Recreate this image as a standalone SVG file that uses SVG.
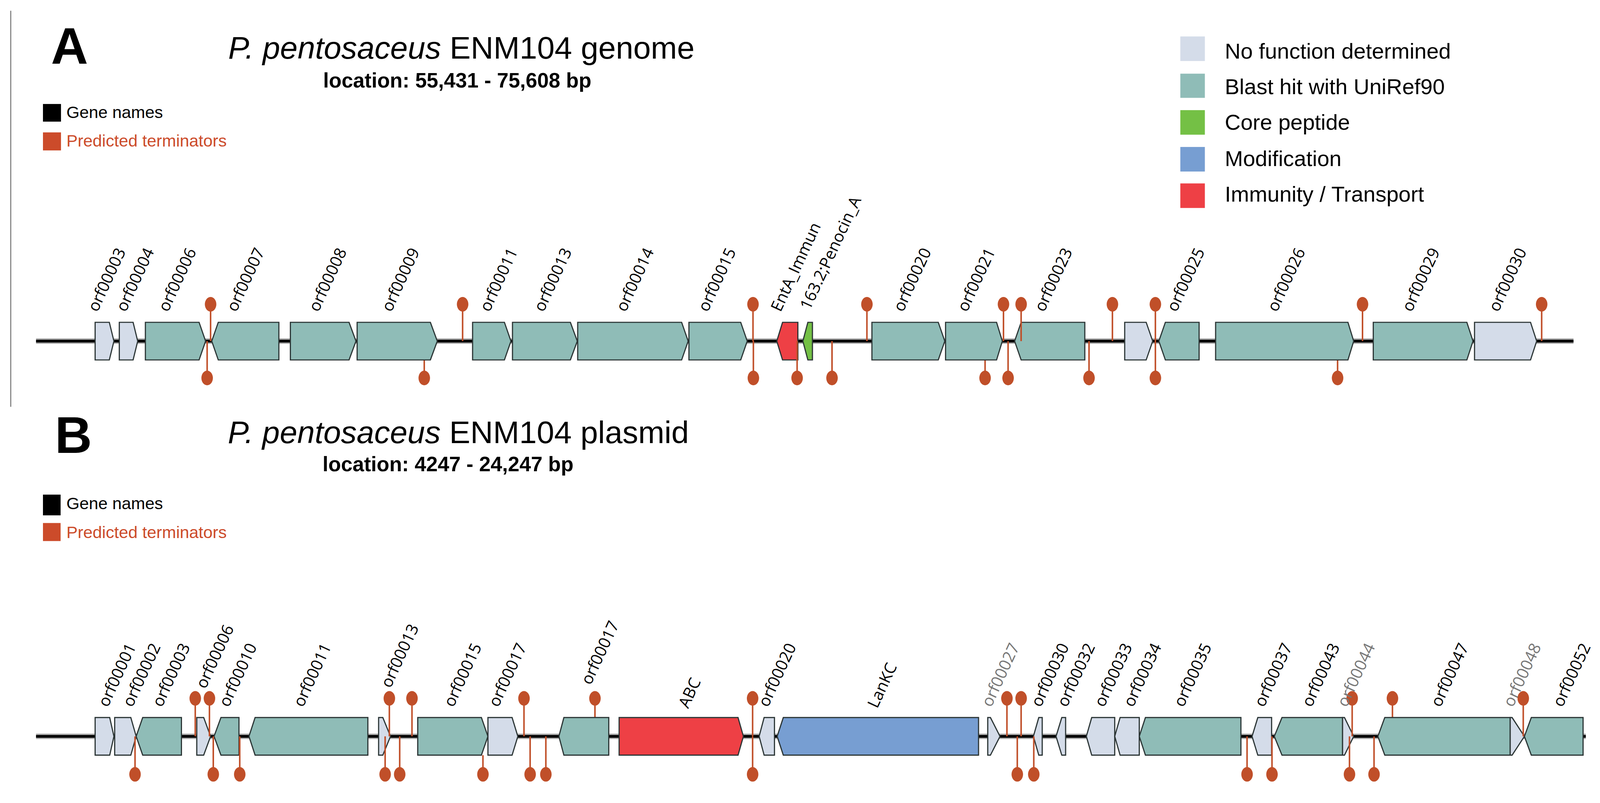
<svg xmlns="http://www.w3.org/2000/svg" width="4171" height="2055" viewBox="0 0 4171 2055">
<style>
.bg{fill:#fff}
.t{font-family:"Liberation Sans",Arial,sans-serif;fill:#000}
.lbl{font-family:"Open Sans","DejaVu Sans",sans-serif;font-size:42px;fill:#000}
.gry{fill:#777}
.g{stroke:#2b3535;stroke-width:3;stroke-linejoin:miter}
.nf{fill:#d4dce9}.bh{fill:#8fbcb7}.cp{fill:#74c045}.md{fill:#779ed2}.im{fill:#ee4045}
.halo{stroke:#a8a8a8;stroke-width:14}
.bb{stroke:#000;stroke-width:7}
.st{stroke:#c04f29;stroke-width:4}
.hd{fill:#c04f29}
</style>
<rect class="bg" x="0" y="0" width="4171" height="2055"/>
<g transform="scale(0.982)">
<line x1="28" y1="28" x2="28" y2="1060" stroke="#888" stroke-width="3"/>

<g id="headerA">
<text class="t" x="133" y="166" font-size="134" font-weight="bold">A</text>
<text class="t" x="595" y="153" font-size="82"><tspan font-style="italic">P. pentosaceus</tspan> ENM104 genome</text>
<text class="t" x="1192" y="228" font-size="54" font-weight="bold" text-anchor="middle">location: 55,431 - 75,608 bp</text>
<rect x="112" y="271" width="47" height="46" fill="#000"/>
<text class="t" x="173" y="308" font-size="44">Gene names</text>
<rect x="112" y="345" width="47" height="47" fill="#cc4b2a"/>
<text class="t" x="173" y="382" font-size="44" style="fill:#cc4b2a">Predicted terminators</text>
</g>

<g id="legend">
<rect class="nf" x="3077" y="95" width="64" height="64"/>
<text class="t" x="3193" y="153" font-size="57">No function determined</text>
<rect class="bh" x="3077" y="192" width="64" height="63"/>
<text class="t" x="3193" y="245" font-size="57">Blast hit with UniRef90</text>
<rect class="cp" x="3077" y="287" width="64" height="64"/>
<text class="t" x="3193" y="338" font-size="57">Core peptide</text>
<rect class="md" x="3077" y="383" width="64" height="64"/>
<text class="t" x="3193" y="433" font-size="57">Modification</text>
<rect class="im" x="3077" y="478" width="64" height="64"/>
<text class="t" x="3193" y="525" font-size="57">Immunity / Transport</text>
</g>

<g id="headerB">
<text class="t" x="143" y="1180" font-size="134" font-weight="bold">B</text>
<text class="t" x="594" y="1155" font-size="82"><tspan font-style="italic">P. pentosaceus</tspan> ENM104 plasmid</text>
<text class="t" x="1168" y="1228" font-size="54" font-weight="bold" text-anchor="middle">location: 4247 - 24,247 bp</text>
<rect x="112" y="1289" width="46" height="54" fill="#000"/>
<text class="t" x="173" y="1327" font-size="44">Gene names</text>
<rect x="112" y="1363" width="46" height="47" fill="#cc4b2a"/>
<text class="t" x="173" y="1402" font-size="44" style="fill:#cc4b2a">Predicted terminators</text>
</g>

<g id="connectors">
<line class="halo" x1="94" y1="889" x2="4102" y2="889"/>
<line class="bb" x1="94" y1="889" x2="4102" y2="889"/>
<line class="halo" x1="94" y1="1919" x2="4134" y2="1919"/>
<line class="bb" x1="94" y1="1919" x2="4134" y2="1919"/>
<line class="st" x1="1106" y1="938" x2="1106" y2="985"/>
<line class="st" x1="2568" y1="938" x2="2568" y2="985"/>
<line class="st" x1="3487" y1="938" x2="3487" y2="985"/>
<line class="st" x1="1551" y1="1820" x2="1551" y2="1870"/>
<line class="st" x1="3630" y1="1820" x2="3630" y2="1870"/>
<line class="st" x1="1259" y1="1968" x2="1259" y2="2018"/>
</g>

<g id="genesA">
<polygon id="a_orf00003" class="g nf" points="248,840 285,840 297,889 285,938 248,938"/>
<polygon id="a_orf00004" class="g nf" points="311,840 347,840 359,889 347,938 311,938"/>
<polygon id="a_orf00006" class="g bh" points="379,840 519,840 536,889 519,938 379,938"/>
<polygon id="a_orf00007" class="g bh" points="552,889 569,840 727,840 727,938 569,938"/>
<polygon id="a_orf00008" class="g bh" points="757,840 910,840 928,889 910,938 757,938"/>
<polygon id="a_orf00009" class="g bh" points="931,840 1122,840 1140,889 1122,938 931,938"/>
<polygon id="a_orf00011" class="g bh" points="1232,840 1315,840 1332,889 1315,938 1232,938"/>
<polygon id="a_orf00013" class="g bh" points="1336,840 1487,840 1505,889 1487,938 1336,938"/>
<polygon id="a_orf00014" class="g bh" points="1506,840 1777,840 1794,889 1777,938 1506,938"/>
<polygon id="a_orf00015" class="g bh" points="1796,840 1931,840 1948,889 1931,938 1796,938"/>
<polygon id="a_EntA" class="g im" points="2025,889 2040,840 2080,840 2080,938 2040,938"/>
<polygon id="a_Penocin" class="g cp" points="2093,889 2106,840 2118,840 2118,938 2106,938"/>
<polygon id="a_orf00020" class="g bh" points="2273,840 2446,840 2463,889 2446,938 2273,938"/>
<polygon id="a_orf00021" class="g bh" points="2465,840 2598,840 2613,889 2598,938 2465,938"/>
<polygon id="a_orf00023" class="g bh" points="2645,889 2662,840 2828,840 2828,938 2662,938"/>
<polygon id="a_orf00024" class="g nf" points="2932,840 2988,840 3005,889 2988,938 2932,938"/>
<polygon id="a_orf00025" class="g bh" points="3021,889 3038,840 3126,840 3126,938 3038,938"/>
<polygon id="a_orf00026" class="g bh" points="3169,840 3514,840 3529,889 3514,938 3169,938"/>
<polygon id="a_orf00029" class="g bh" points="3580,840 3824,840 3840,889 3824,938 3580,938"/>
<polygon id="a_orf00030" class="g nf" points="3844,840 3990,840 4006,889 3990,938 3844,938"/>
</g>

<g id="genesB">
<polygon id="b_orf00001" class="g nf" points="248,1870 286,1870 297,1919 286,1968 248,1968"/>
<polygon id="b_orf00002" class="g nf" points="299,1870 341,1870 355,1919 341,1968 299,1968"/>
<polygon id="b_orf00003" class="g bh" points="355,1919 372,1870 473,1870 473,1968 372,1968"/>
<polygon id="b_orf00006" class="g nf" points="513,1870 531,1870 549,1919 531,1968 513,1968"/>
<polygon id="b_orf00010" class="g bh" points="558,1919 576,1870 623,1870 623,1968 576,1968"/>
<polygon id="b_orf00011" class="g bh" points="649,1919 665,1870 959,1870 959,1968 665,1968"/>
<polygon id="b_orf00013" class="g nf" points="987,1870 998,1870 1018,1919 998,1968 987,1968"/>
<polygon id="b_orf00015" class="g bh" points="1089,1870 1255,1870 1272,1919 1255,1968 1089,1968"/>
<polygon id="b_orf00017" class="g nf" points="1272,1870 1335,1870 1350,1919 1335,1968 1272,1968"/>
<polygon id="b_orf00017b" class="g bh" points="1457,1919 1470,1870 1587,1870 1587,1968 1470,1968"/>
<polygon id="b_ABC" class="g im" points="1614,1870 1924,1870 1938,1919 1924,1968 1614,1968"/>
<polygon id="b_orf00020" class="g nf" points="1979,1919 1992,1870 2019,1870 2019,1968 1992,1968"/>
<polygon id="b_LanKC" class="g md" points="2026,1919 2042,1870 2551,1870 2551,1968 2042,1968"/>
<polygon id="b_orf00027" class="g nf" points="2575,1870 2582,1870 2607,1919 2582,1968 2575,1968"/>
<polygon id="b_orf00030" class="g nf" points="2694,1919 2708,1870 2717,1870 2717,1968 2708,1968"/>
<polygon id="b_orf00032" class="g nf" points="2753,1919 2768,1870 2778,1870 2778,1968 2768,1968"/>
<polygon id="b_orf00033" class="g nf" points="2832,1919 2846,1870 2906,1870 2906,1968 2846,1968"/>
<polygon id="b_orf00034" class="g nf" points="2906,1919 2920,1870 2970,1870 2970,1968 2920,1968"/>
<polygon id="b_orf00035" class="g bh" points="2970,1919 2986,1870 3235,1870 3235,1968 2986,1968"/>
<polygon id="b_orf00037" class="g nf" points="3264,1919 3279,1870 3315,1870 3315,1968 3279,1968"/>
<polygon id="b_orf00043" class="g bh" points="3322,1919 3342,1870 3500,1870 3500,1968 3342,1968"/>
<polygon id="b_orf00044" class="g nf" points="3500,1870 3505,1870 3529,1919 3505,1968 3500,1968"/>
<polygon id="b_orf00047" class="g bh" points="3592,1919 3610,1870 3937,1870 3937,1968 3610,1968"/>
<polygon id="b_orf00048" class="g nf" points="3937,1870 3942,1870 3974,1919 3942,1968 3937,1968"/>
<polygon id="b_orf00052" class="g bh" points="3974,1919 3992,1870 4127,1870 4127,1968 3992,1968"/>
</g>

<g id="terminatorsA">
<g class="st">
<line x1="549" y1="793" x2="549" y2="889"/><line x1="1206" y1="793" x2="1206" y2="889"/><line x1="1963" y1="793" x2="1963" y2="889"/>
<line x1="2260" y1="793" x2="2260" y2="889"/><line x1="2616" y1="793" x2="2616" y2="889"/><line x1="2662" y1="793" x2="2662" y2="889"/>
<line x1="2900" y1="793" x2="2900" y2="889"/><line x1="3012" y1="793" x2="3012" y2="889"/><line x1="3552" y1="793" x2="3552" y2="889"/><line x1="4019" y1="793" x2="4019" y2="889"/>
<line x1="540" y1="889" x2="540" y2="985"/><line x1="1964" y1="889" x2="1964" y2="985"/><line x1="2078" y1="889" x2="2078" y2="985"/>
<line x1="2169" y1="889" x2="2169" y2="985"/><line x1="2628" y1="889" x2="2628" y2="985"/><line x1="2839" y1="889" x2="2839" y2="985"/><line x1="3012" y1="889" x2="3012" y2="985"/>
</g>
<g class="hd">
<ellipse cx="549" cy="793" rx="15" ry="19"/><ellipse cx="1206" cy="793" rx="15" ry="19"/><ellipse cx="1963" cy="793" rx="15" ry="19"/>
<ellipse cx="2260" cy="793" rx="15" ry="19"/><ellipse cx="2616" cy="793" rx="15" ry="19"/><ellipse cx="2662" cy="793" rx="15" ry="19"/>
<ellipse cx="2900" cy="793" rx="15" ry="19"/><ellipse cx="3012" cy="793" rx="15" ry="19"/><ellipse cx="3552" cy="793" rx="15" ry="19"/><ellipse cx="4019" cy="793" rx="15" ry="19"/>
<ellipse cx="540" cy="985" rx="15" ry="19"/><ellipse cx="1106" cy="985" rx="15" ry="19"/><ellipse cx="1964" cy="985" rx="15" ry="19"/><ellipse cx="2078" cy="985" rx="15" ry="19"/>
<ellipse cx="2169" cy="985" rx="15" ry="19"/><ellipse cx="2568" cy="985" rx="15" ry="19"/><ellipse cx="2628" cy="985" rx="15" ry="19"/><ellipse cx="2839" cy="985" rx="15" ry="19"/>
<ellipse cx="3012" cy="985" rx="15" ry="19"/><ellipse cx="3487" cy="985" rx="15" ry="19"/>
</g>
</g>

<g id="terminatorsB">
<g class="st">
<line x1="509" y1="1820" x2="509" y2="1919"/><line x1="546" y1="1820" x2="546" y2="1919"/><line x1="1015" y1="1820" x2="1015" y2="1919"/>
<line x1="1074" y1="1820" x2="1074" y2="1919"/><line x1="1366" y1="1820" x2="1366" y2="1919"/><line x1="1962" y1="1820" x2="1962" y2="1919"/>
<line x1="2625" y1="1820" x2="2625" y2="1919"/><line x1="2662" y1="1820" x2="2662" y2="1919"/><line x1="3525" y1="1820" x2="3525" y2="1919"/><line x1="3971" y1="1820" x2="3971" y2="1919"/>
<line x1="352" y1="1919" x2="352" y2="2018"/><line x1="556" y1="1919" x2="556" y2="2018"/><line x1="625" y1="1919" x2="625" y2="2018"/>
<line x1="1004" y1="1919" x2="1004" y2="2018"/><line x1="1042" y1="1919" x2="1042" y2="2018"/><line x1="1382" y1="1919" x2="1382" y2="2018"/>
<line x1="1423" y1="1919" x2="1423" y2="2018"/><line x1="1962" y1="1919" x2="1962" y2="2018"/><line x1="2652" y1="1919" x2="2652" y2="2018"/>
<line x1="2695" y1="1919" x2="2695" y2="2018"/><line x1="3251" y1="1919" x2="3251" y2="2018"/><line x1="3316" y1="1919" x2="3316" y2="2018"/>
<line x1="3518" y1="1919" x2="3518" y2="2018"/><line x1="3582" y1="1919" x2="3582" y2="2018"/>
</g>
<g class="hd">
<ellipse cx="509" cy="1820" rx="15" ry="19"/><ellipse cx="546" cy="1820" rx="15" ry="19"/><ellipse cx="1015" cy="1820" rx="15" ry="19"/>
<ellipse cx="1074" cy="1820" rx="15" ry="19"/><ellipse cx="1366" cy="1820" rx="15" ry="19"/><ellipse cx="1551" cy="1820" rx="15" ry="19"/>
<ellipse cx="1962" cy="1820" rx="15" ry="19"/><ellipse cx="2625" cy="1820" rx="15" ry="19"/><ellipse cx="2662" cy="1820" rx="15" ry="19"/>
<ellipse cx="3525" cy="1820" rx="15" ry="19"/><ellipse cx="3630" cy="1820" rx="15" ry="19"/><ellipse cx="3971" cy="1820" rx="15" ry="19"/>
<ellipse cx="352" cy="2018" rx="15" ry="19"/><ellipse cx="556" cy="2018" rx="15" ry="19"/><ellipse cx="625" cy="2018" rx="15" ry="19"/>
<ellipse cx="1004" cy="2018" rx="15" ry="19"/><ellipse cx="1042" cy="2018" rx="15" ry="19"/><ellipse cx="1259" cy="2018" rx="15" ry="19"/>
<ellipse cx="1382" cy="2018" rx="15" ry="19"/><ellipse cx="1423" cy="2018" rx="15" ry="19"/><ellipse cx="1962" cy="2018" rx="15" ry="19"/>
<ellipse cx="2652" cy="2018" rx="15" ry="19"/><ellipse cx="2695" cy="2018" rx="15" ry="19"/><ellipse cx="3251" cy="2018" rx="15" ry="19"/>
<ellipse cx="3316" cy="2018" rx="15" ry="19"/><ellipse cx="3518" cy="2018" rx="15" ry="19"/><ellipse cx="3582" cy="2018" rx="15" ry="19"/>
</g>
</g>

<g id="labelsA" class="lbl">
<text transform="translate(254,815) rotate(-65)">orf00003</text>
<text transform="translate(328,815) rotate(-65)">orf00004</text>
<text transform="translate(438,815) rotate(-65)">orf00006</text>
<text transform="translate(616,815) rotate(-65)">orf00007</text>
<text transform="translate(830,815) rotate(-65)">orf00008</text>
<text transform="translate(1020,815) rotate(-65)">orf00009</text>
<text transform="translate(1276,815) rotate(-65)">orf00011</text>
<text transform="translate(1417,815) rotate(-65)">orf00013</text>
<text transform="translate(1631,815) rotate(-65)">orf00014</text>
<text transform="translate(1845,815) rotate(-65)">orf00015</text>
<text transform="translate(2035,815) rotate(-65)">EntA_Immun</text>
<text transform="translate(2111,810) rotate(-65)">163.2;Penocin_A</text>
<text transform="translate(2354,815) rotate(-65)">orf00020</text>
<text transform="translate(2521,815) rotate(-65)">orf00021</text>
<text transform="translate(2722,815) rotate(-65)">orf00023</text>
<text transform="translate(3067,815) rotate(-65)">orf00025</text>
<text transform="translate(3329,815) rotate(-65)">orf00026</text>
<text transform="translate(3680,815) rotate(-65)">orf00029</text>
<text transform="translate(3906,815) rotate(-65)">orf00030</text>
</g>

<g id="labelsB" class="lbl">
<text transform="translate(281,1845) rotate(-65)">orf00001</text>
<text transform="translate(345,1845) rotate(-65)">orf00002</text>
<text transform="translate(422,1845) rotate(-65)">orf00003</text>
<text transform="translate(536,1797) rotate(-65)">orf00006</text>
<text transform="translate(596,1845) rotate(-65)">orf00010</text>
<text transform="translate(790,1845) rotate(-65)">orf00011</text>
<text transform="translate(1018,1795) rotate(-65)">orf00013</text>
<text transform="translate(1182,1845) rotate(-65)">orf00015</text>
<text transform="translate(1299,1845) rotate(-65)">orf00017</text>
<text transform="translate(1540,1787) rotate(-65)">orf00017</text>
<text transform="translate(1794,1848) rotate(-65)">ABC</text>
<text transform="translate(2002,1845) rotate(-65)">orf00020</text>
<text transform="translate(2287,1848) rotate(-65)">LanKC</text>
<text class="gry" transform="translate(2584,1845) rotate(-65)">orf00027</text>
<text transform="translate(2713,1845) rotate(-65)">orf00030</text>
<text transform="translate(2781,1845) rotate(-65)">orf00032</text>
<text transform="translate(2878,1845) rotate(-65)">orf00033</text>
<text transform="translate(2954,1845) rotate(-65)">orf00034</text>
<text transform="translate(3085,1845) rotate(-65)">orf00035</text>
<text transform="translate(3295,1845) rotate(-65)">orf00037</text>
<text transform="translate(3419,1845) rotate(-65)">orf00043</text>
<text class="gry" transform="translate(3511,1845) rotate(-65)">orf00044</text>
<text transform="translate(3755,1845) rotate(-65)">orf00047</text>
<text class="gry" transform="translate(3944,1845) rotate(-65)">orf00048</text>
<text transform="translate(4073,1845) rotate(-65)">orf00052</text>
</g>
</g>
</svg>
